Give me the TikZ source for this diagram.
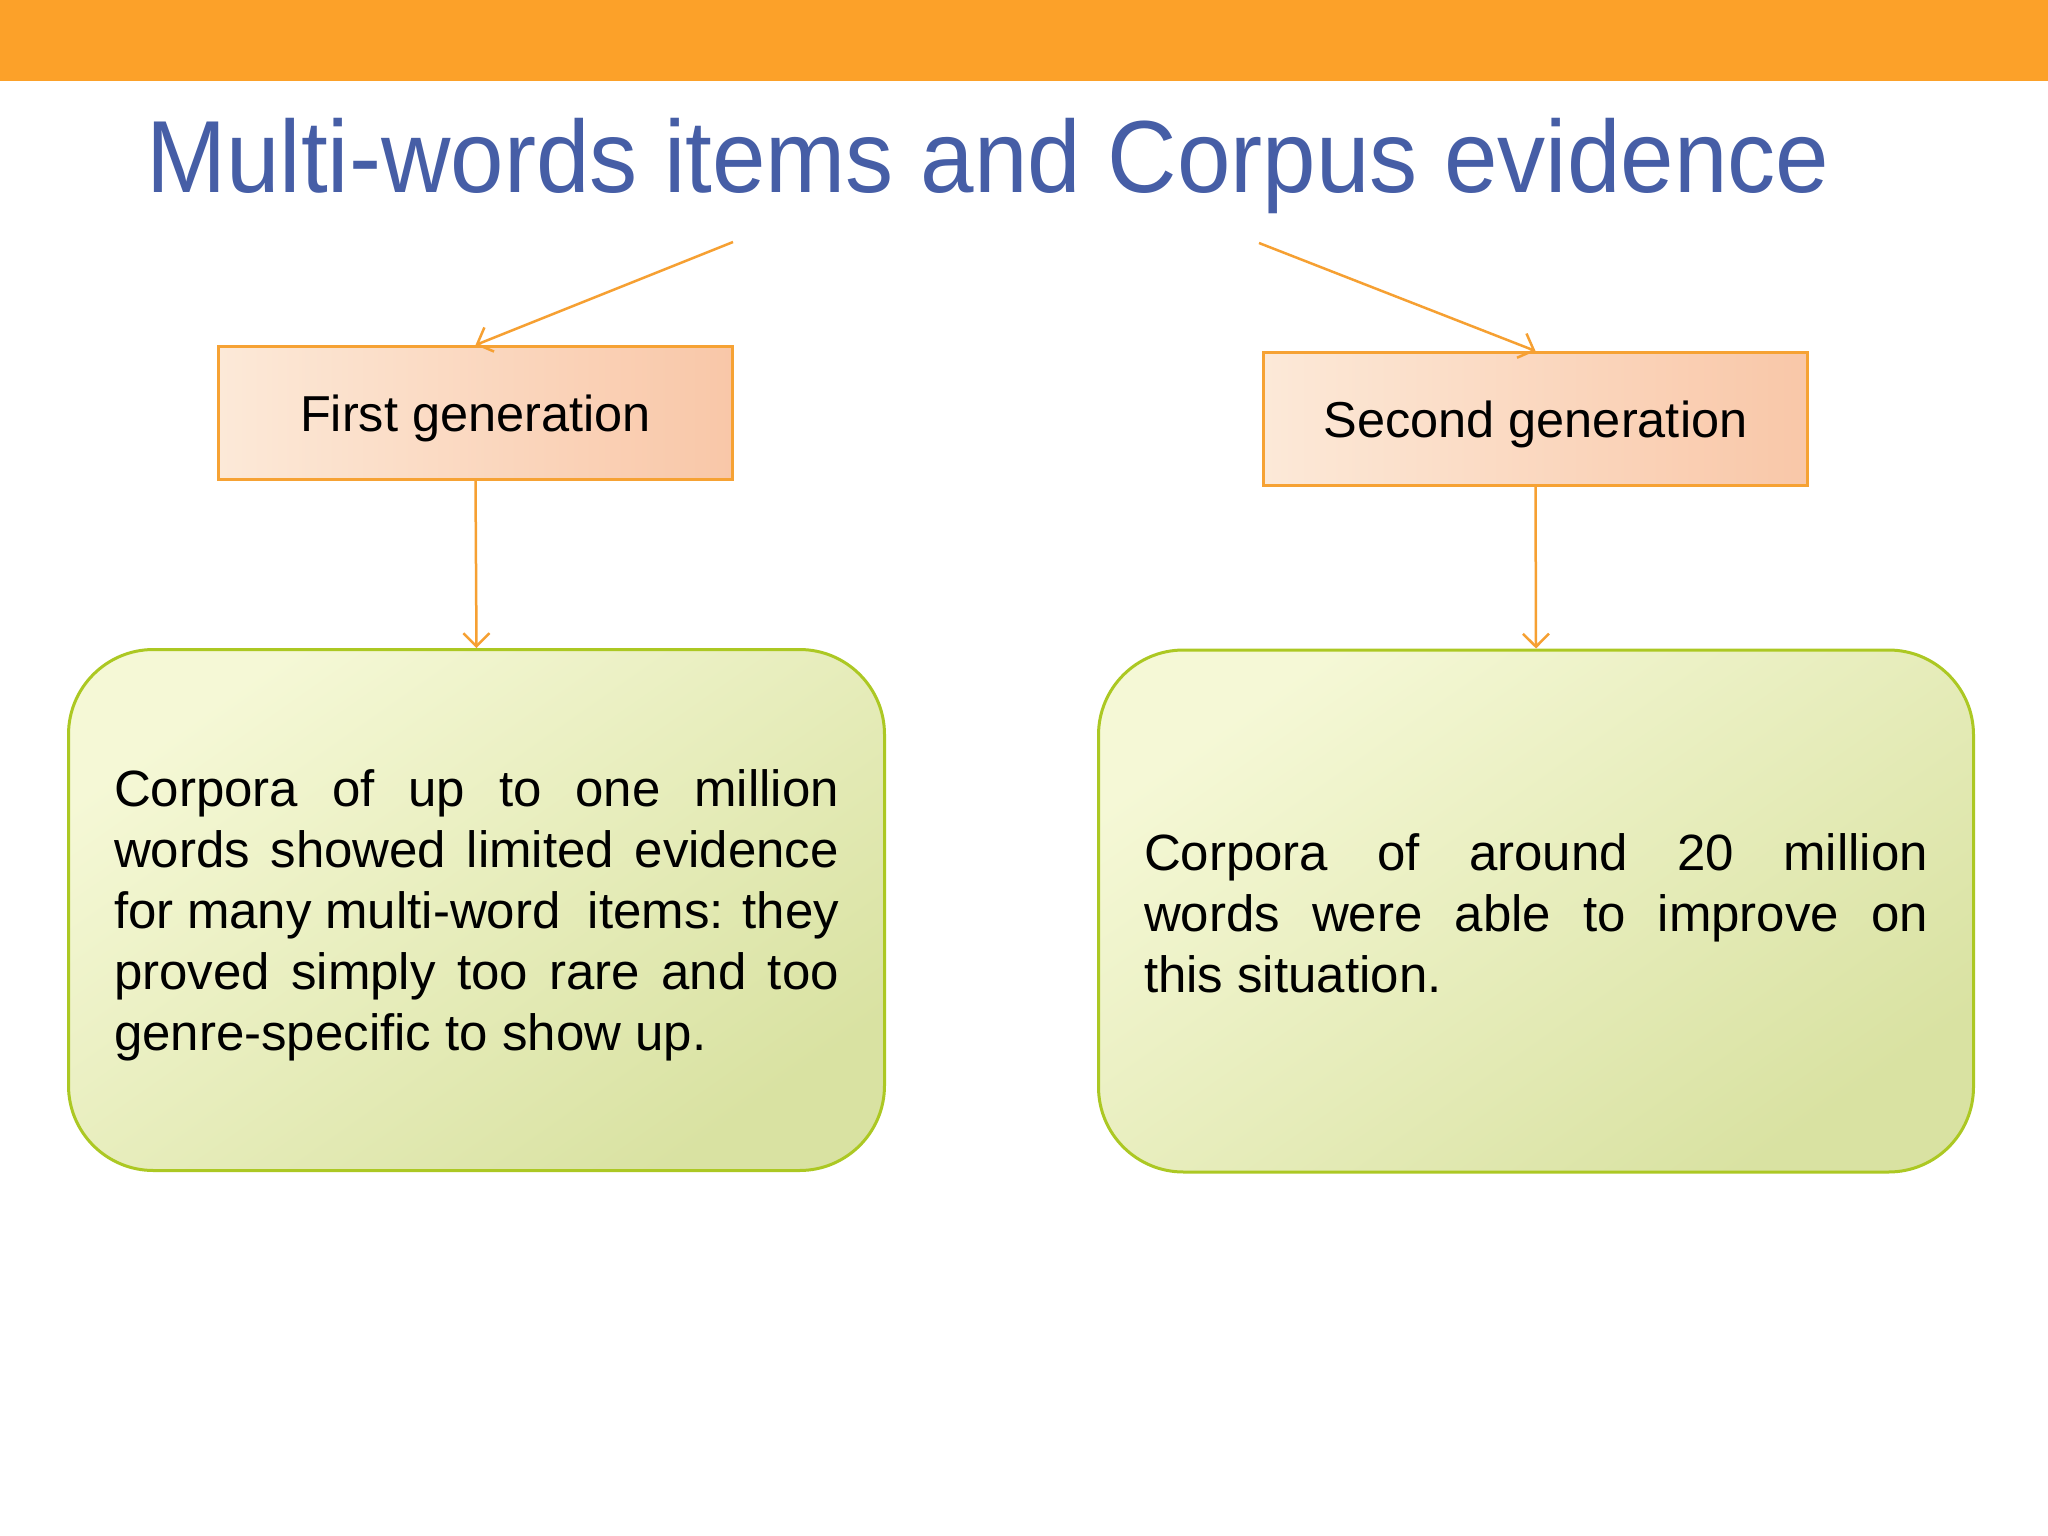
\documentclass[tikz,border=0pt]{standalone}
\usepackage{fontspec}
\setmainfont{Liberation Sans}
\usetikzlibrary{arrows.meta}
\definecolor{barorange}{RGB}{252,161,41}
\definecolor{titleblue}{RGB}{70,94,166}
\definecolor{peachL}{RGB}{252,233,216}
\definecolor{peachR}{RGB}{249,199,168}
\definecolor{boxorange}{RGB}{246,162,52}
\definecolor{greenL}{RGB}{245,248,214}
\definecolor{greenR}{RGB}{217,226,162}
\definecolor{greenline}{RGB}{172,200,35}
\definecolor{arrowc}{RGB}{246,160,50}
\newcommand{\justlines}[3]{\parbox[c]{#1}{\vspace*{#2}\fontsize{51}{61}\selectfont
  \tolerance=9999 \spaceskip=0.278em plus 6em minus 0.02em \parfillskip=0pt plus 1fil
  #3}}
\begin{document}
\begin{tikzpicture}[x=1pt,y=-1pt,
  genbox/.style={draw=boxorange, line width=3pt, left color=peachL, right color=peachR,
    minimum height=133pt, inner sep=0pt, font=\fontsize{50.5}{60}\selectfont, text=black,
    text depth=0pt},
  infobox/.style={draw=greenline, line width=3pt, rounded corners=85pt,
    top color=greenL, bottom color=greenR, shading angle=35, inner sep=0pt, text=black},
  link/.style={draw=arrowc, line width=2.5pt,
    -{Straight Barb[length=13pt,width=26pt,line width=2.5pt]}}
]
\useasboundingbox (0,0) rectangle (2048,1536);
\fill[white] (0,0) rectangle (2048,1536);
\fill[barorange] (0,0) rectangle (2048,81);

\node[anchor=base west, inner sep=0pt, text=titleblue]
  (title) at (146,192) {\scalebox{0.938}[1]{\fontsize{102.5}{115}\selectfont Multi-words items and Corpus evidence}};

\node[genbox, minimum width=514pt] (g1) at (475.5,413) {First generation};
\node[genbox, minimum width=544pt] (g2) at (1535.5,419) {Second generation};

\node[infobox, minimum width=816pt, minimum height=521pt] (b1) at (476.5,910)
  {\justlines{725pt}{10pt}{Corpora of up to one million\linebreak
   words showed limited evidence\linebreak
   for many multi-word\ \ items: they\linebreak
   proved simply too rare and too\linebreak
   genre-specific to show up.}};
\node[infobox, minimum width=875pt, minimum height=522pt] (b2) at (1536,911)
  {\justlines{784pt}{4pt}{Corpora of around 20 million\linebreak
   words were able to improve on\linebreak
   this situation.}};

\coordinate (s1) at (733,242);
\coordinate (s2) at (1259,243);
\draw[link] (s1) -- (g1.north);
\draw[link] (s2) -- (g2.north);
\draw[link] (g1.south) -- (b1.north);
\draw[link] (g2.south) -- (b2.north);
\end{tikzpicture}
\end{document}
